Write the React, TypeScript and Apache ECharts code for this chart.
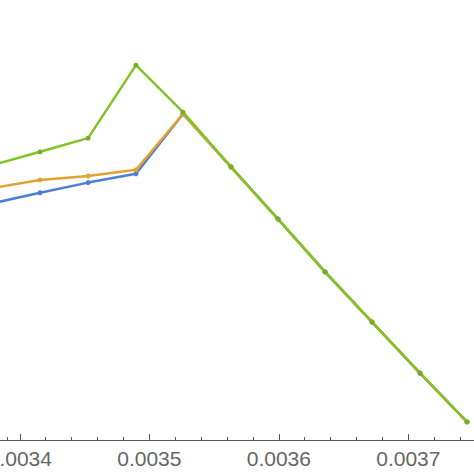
import React, { useEffect, useRef } from "react";
import * as echarts from "echarts";

const xValues = [0.003379, 0.0034156, 0.0034527, 0.0034897, 0.003526, 0.0035631, 0.0035994, 0.0036357, 0.003672, 0.003709, 0.0037453];
const blueValues = [5.38, 5.62, 5.85, 6.05, 7.41, 6.2, 5.02, 3.82, 2.68, 1.52, 0.41];
const orangeValues = [5.73, 5.91, 6.0, 6.14, 7.41, 6.2, 5.02, 3.82, 2.68, 1.52, 0.41];
const greenValues = [6.25, 6.55, 6.86, 8.52, 7.45, 6.21, 5.02, 3.82, 2.68, 1.52, 0.41];
const majorTicks = [0.0034, 0.0035, 0.0036, 0.0037];
const minorTicks = [
  0.00339, 0.00342, 0.00344, 0.00346, 0.00348, 0.00352, 0.00354, 0.00356, 0.00358,
  0.00362, 0.00364, 0.00366, 0.00368, 0.00372, 0.00374,
];

const X_MIN = 0.0033847;
const X_MAX = 0.0037507;

export default function App() {
  const ref = useRef<HTMLDivElement>(null);
  useEffect(() => {
    if (!ref.current) return;
    const chart = echarts.init(ref.current, undefined, { renderer: "svg" });
    const pair = (ys: number[]) => xValues.map((x, i) => [x, ys[i]]);
    const axisLine = { show: true, lineStyle: { color: "#555", width: 1 } };
    chart.setOption({
      animation: false,
      grid: { left: 0, right: 0, top: 0, bottom: 34, containLabel: false, outerBoundsMode: "none" },
      xAxis: [
        {
          type: "value",
          min: X_MIN,
          max: X_MAX,
          position: "bottom",
          axisLine,
          axisTick: { show: true, inside: true, length: 6, customValues: majorTicks, lineStyle: { color: "#555" } },
          axisLabel: {
            show: true,
            customValues: majorTicks,
            formatter: (v: number) => v.toFixed(4),
            fontSize: 21,
            color: "#666",
            fontFamily: "Liberation Sans",
            margin: 8,
          },
          splitLine: { show: false },
        },
        {
          type: "value",
          min: X_MIN,
          max: X_MAX,
          position: "bottom",
          axisLine,
          axisTick: { show: true, inside: true, length: 3, customValues: minorTicks, lineStyle: { color: "#555" } },
          axisLabel: { show: false },
          splitLine: { show: false },
        },
      ],
      yAxis: { type: "value", min: 0, max: 10, show: false, splitLine: { show: false } },
      series: [
        {
          type: "line",
          data: pair(blueValues),
          symbol: "circle",
          symbolSize: 5,
          showSymbol: true,
          lineStyle: { color: "#4c7fd0", width: 2.5 },
          itemStyle: { color: "#4c7fd0" },
          clip: true,
        },
        {
          type: "line",
          data: pair(orangeValues),
          symbol: "circle",
          symbolSize: 5,
          showSymbol: true,
          lineStyle: { color: "#e2a232", width: 2.5 },
          itemStyle: { color: "#e2a232" },
          clip: true,
        },
        {
          type: "line",
          data: pair(greenValues),
          symbol: "circle",
          symbolSize: 5,
          showSymbol: true,
          lineStyle: { color: "#80c424", width: 2.5 },
          itemStyle: { color: "#74b024" },
          clip: true,
        },
      ],
    });
    return () => chart.dispose();
  }, []);
  return <div ref={ref} style={{ position: "absolute", left: 0, top: 0, width: 474, height: 474 }} />;
}
